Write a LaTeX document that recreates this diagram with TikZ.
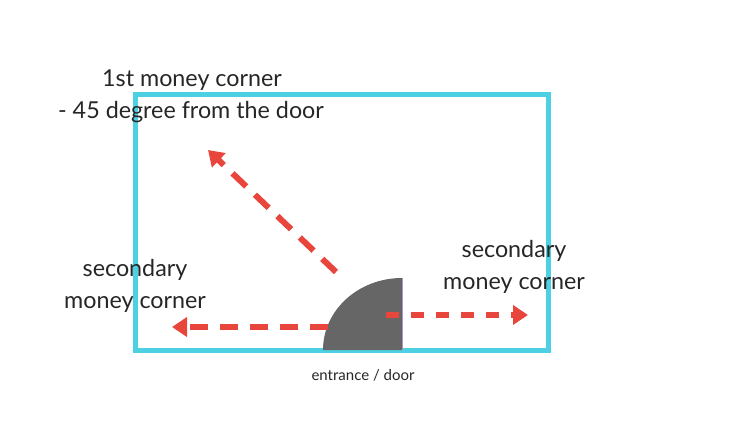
\documentclass[tikz,border=0pt]{standalone}
\usepackage{fontspec}
\setmainfont{Lato}
\usetikzlibrary{arrows.meta}
\definecolor{roomc}{RGB}{77,208,225}
\definecolor{arrowc}{RGB}{232,69,60}
\definecolor{doorc}{RGB}{102,102,102}
\definecolor{leafc}{RGB}{180,140,200}
\begin{document}
\begin{tikzpicture}[x=1pt,y=-1pt,
  wall/.style={draw=roomc,line width=5pt},
  dasharrow/.style={draw=arrowc,line width=6pt,dash pattern=on 14pt off 12pt,
    -{Triangle[length=15pt,width=19pt]}},
  lbl/.style={font=\fontsize{23.3}{32}\selectfont,align=center,inner sep=0pt,text=black!85},
  small/.style={font=\fontsize{15}{18}\selectfont,inner sep=0pt,text=black!85}]
\useasboundingbox (0,0) rectangle (750,422);
\draw[wall] (135,95) rectangle (548,350);
% door
\fill[doorc] (402,350) -- (323,350) arc[start angle=180,end angle=270,x radius=79,y radius=72] -- cycle;
\draw[leafc,line width=1pt] (402,278) -- (402,350);
% arrow end points
\coordinate (rs) at (386,315);
\coordinate (re) at (528,315);
\coordinate (ls) at (328,327);
\coordinate (le) at (172,327);
\coordinate (ds) at (336,272);
\coordinate (de) at (208,150);
\draw[dasharrow,dash pattern=on 13pt off 12pt] (rs) -- (re);
\draw[dasharrow,dash pattern=on 18pt off 12pt] (ls) -- (le);
\draw[dasharrow,dash pattern=on 19pt off 12pt] (ds) -- (de);
% labels
\node[lbl] (t1) at (192,80) {1st money corner};
\node[lbl] (t2) at (191,112) {- 45 degree from the door};
\node[lbl] (sl) at (135,286) {secondary\\money corner};
\node[lbl] (sr) at (514,267) {secondary\\money corner};
\node[small] (door) at (363,375) {entrance / door};
\end{tikzpicture}
\end{document}
